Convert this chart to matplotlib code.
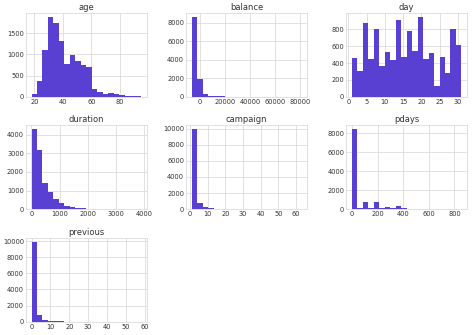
import numpy as np
import matplotlib
matplotlib.use("Agg")
import matplotlib.pyplot as plt

# Histogram bin counts (20 equal-width bins per column)
age_range = (18, 95)
age_counts = [70, 380, 1100, 1890, 1740, 1320, 780, 980, 840, 760,
              700, 180, 110, 70, 80, 60, 35, 15, 12, 5]

balance_range = (-6847, 81204)
balance_counts = [8650, 1950, 330, 110, 50, 25, 12, 8, 5, 3,
                  2, 2, 1, 1, 1, 0, 0, 1, 0, 1]

day_range = (1, 31)
day_counts = [455, 305, 880, 450, 800, 365, 535, 440, 910, 470,
              780, 545, 950, 450, 520, 125, 475, 285, 800, 615]

duration_range = (2, 3881)
duration_counts = [4300, 3170, 1430, 920, 545, 330, 185, 115, 65, 40,
                   22, 12, 8, 5, 3, 2, 1, 1, 0, 1]

campaign_range = (1, 63)
campaign_counts = [9950, 780, 250, 100, 40, 18, 8, 5, 3, 2,
                   1, 1, 0, 0, 0, 0, 0, 0, 0, 1]

pdays_range = (-1, 854)
pdays_counts = [8400, 90, 780, 130, 790, 100, 210, 170, 310, 80,
                60, 10, 5, 3, 2, 2, 1, 1, 1, 1]

previous_range = (0, 58)
previous_counts = [9950, 800, 200, 80, 35, 15, 8, 4, 3, 2,
                   1, 1, 0, 0, 0, 0, 0, 0, 0, 1]

columns = ["age", "balance", "day", "duration", "campaign", "pdays", "previous"]
ranges = [age_range, balance_range, day_range, duration_range,
          campaign_range, pdays_range, previous_range]
counts = [age_counts, balance_counts, day_counts, duration_counts,
          campaign_counts, pdays_counts, previous_counts]

xticks = {
    "age": [20, 40, 60, 80],
    "balance": [0, 20000, 40000, 60000, 80000],
    "day": [0, 5, 10, 15, 20, 25, 30],
    "duration": [0, 1000, 2000, 3000, 4000],
    "campaign": [0, 10, 20, 30, 40, 50, 60],
    "pdays": [0, 200, 400, 600, 800],
    "previous": [0, 10, 20, 30, 40, 50, 60],
}

bar_color = "#5a3fd3"
grid_color = "#dcdcdc"
text_color = "#333333"

fig, axes = plt.subplots(3, 3, figsize=(4.74, 3.35), dpi=100)
fig.subplots_adjust(left=0.055, right=0.985, top=0.962, bottom=0.04,
                    wspace=0.33, hspace=0.34)

for ax, name, rng, cnt in zip(axes.flat, columns, ranges, counts):
    edges = np.linspace(rng[0], rng[1], len(cnt) + 1)
    centers = (edges[:-1] + edges[1:]) / 2
    ax.hist(centers, bins=edges, weights=cnt, color=bar_color, zorder=2)
    ax.set_title(name, fontsize=6, color=text_color, pad=2)
    ax.set_xticks(xticks[name])
    ax.grid(True, color=grid_color, linewidth=0.6, zorder=0)
    ax.set_axisbelow(True)
    ax.tick_params(labelsize=4.8, colors=text_color, length=0, pad=1.5)
    for sp in ax.spines.values():
        sp.set_color(grid_color)
        sp.set_linewidth(0.6)

for ax in axes.flat[len(columns):]:
    ax.set_visible(False)

fig.savefig("out.png", dpi=100, facecolor="white")
